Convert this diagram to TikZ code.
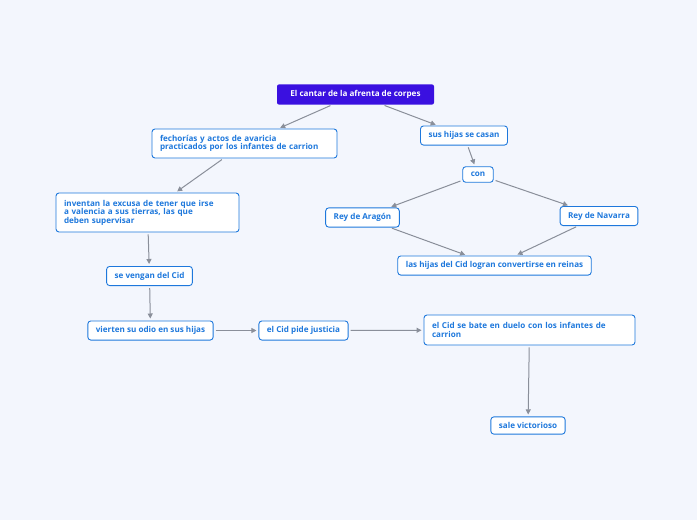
\documentclass[tikz,border=0pt]{standalone}
\usepackage{fontspec}
\setmainfont{Open Sans}
\usetikzlibrary{arrows.meta}
\definecolor{bg}{HTML}{F3F6FD}
\definecolor{rootc}{HTML}{3A10E0}
\definecolor{bl}{HTML}{1E78DC}
\definecolor{ar}{HTML}{8A8F9A}
\begin{document}
\begin{tikzpicture}[x=1pt,y=-1pt,
 box/.style={draw=bl,fill=white,rounded corners=3pt,line width=0.9pt,text=bl,font=\fontsize{8.1}{8.6}\selectfont\bfseries,inner xsep=8pt,inner ysep=5.5pt,align=left},
 rootbox/.style={fill=rootc,rounded corners=2pt,text=white,font=\fontsize{8.1}{8.6}\selectfont\bfseries,inner xsep=8pt,inner ysep=6pt},
 con/.style={draw=ar,line width=1pt,-{Triangle[length=5pt,width=5pt]},shorten >=2pt,shorten <=2pt}]
\fill[bg] (0,0) rectangle (697,520);
\node[rootbox,minimum width=157pt] (root) at (355.5,94.5) {El cantar de la afrenta de corpes};
\node[box,text width=169pt,minimum height=29pt] (fech) at (244.5,143.5) {fechorías y actos de avaricia\\practicados por los infantes de carrion};
\node[box] (casan) at (464,135.5) {sus hijas se casan};
\node[box] (con) at (478,174.5) {con};
\node[box,text width=167pt,minimum height=39pt] (inv) at (147.5,212.5) {inventan la excusa de tener que irse\\a valencia a sus tierras, las que\\deben supervisar};
\node[box] (ara) at (362.5,217.5) {Rey de Aragón};
\node[box] (nav) at (599,216) {Rey de Navarra};
\node[box] (lash) at (494.5,265.5) {las hijas del Cid logran convertirse en reinas};
\node[box] (veng) at (149.5,276) {se vengan del Cid};
\node[box] (vier) at (150.5,330.5) {vierten su odio en sus hijas};
\node[box] (pide) at (303.5,330.5) {el Cid pide justicia};
\node[box,text width=195pt,minimum height=30pt] (bate) at (529.5,330) {el Cid se bate en duelo con los infantes de\\carrion};
\node[box] (sale) at (528,425.5) {sale victorioso};
\draw[con] (root) -- (fech);
\draw[con] (root) -- (casan);
\draw[con] (fech) -- (inv);
\draw[con] (casan) -- (con);
\draw[con] (con) -- (ara);
\draw[con] (con) -- (nav);
\draw[con] (ara) -- (lash);
\draw[con] (nav) -- (lash);
\draw[con] (inv) -- (veng);
\draw[con] (veng) -- (vier);
\draw[con] (vier) -- (pide);
\draw[con] (pide) -- (bate);
\draw[con] (bate) -- (sale);
\end{tikzpicture}
\end{document}
